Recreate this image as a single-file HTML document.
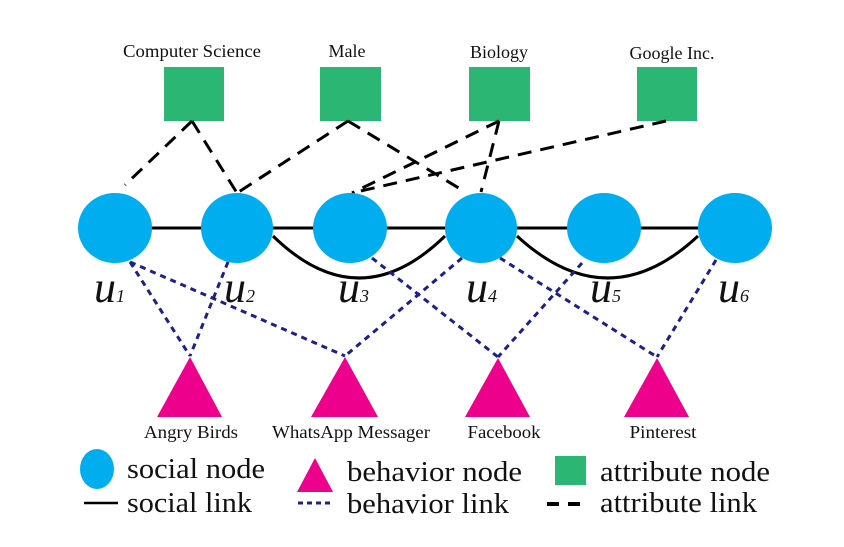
<!DOCTYPE html>
<html><head><style>body{margin:0;background:#fff}svg{display:block}</style></head><body>
<svg width="844" height="547" viewBox="0 0 844 547" xmlns="http://www.w3.org/2000/svg" font-family="Liberation Serif, serif">
<g font-size="18" text-anchor="middle" fill="#111">
<text x="192" y="57" textLength="138" lengthAdjust="spacingAndGlyphs">Computer Science</text>
<text x="347" y="57">Male</text>
<text x="499" y="58">Biology</text>
<text x="672" y="59">Google Inc.</text>
</g>
<g fill="#2bb673">
<rect x="164" y="67" width="60" height="54"/>
<rect x="320" y="67" width="61" height="54"/>
<rect x="469" y="67" width="61" height="54"/>
<rect x="637" y="67" width="60" height="54"/>
</g>
<g stroke="#000" stroke-width="3" stroke-dasharray="14,9" fill="none">
<line x1="192" y1="121" x2="125" y2="185"/>
<line x1="192" y1="121" x2="237" y2="193"/>
<line x1="348" y1="121" x2="237" y2="193"/>
<line x1="348" y1="121" x2="462" y2="190"/>
<line x1="499" y1="121" x2="352" y2="193"/>
<line x1="499" y1="121" x2="481" y2="192"/>
<line x1="666" y1="121" x2="352" y2="193"/>
</g>
<g stroke="#000" stroke-width="3" fill="none">
<line x1="115" y1="228" x2="735" y2="228"/>
<path d="M273 236 Q359 320 445 236"/>
<path d="M517 236 Q608 320 698 236"/>
</g>
<g stroke="#1f1f8a" stroke-width="3" stroke-dasharray="6,5" fill="none">
<line x1="130" y1="262" x2="190" y2="356"/>
<line x1="130" y1="262" x2="345" y2="356"/>
<line x1="228" y1="262" x2="190" y2="356"/>
<line x1="462" y1="258" x2="345" y2="356"/>
<line x1="372" y1="258" x2="498" y2="357"/>
<line x1="582" y1="263" x2="498" y2="357"/>
<line x1="500" y1="258" x2="657" y2="357"/>
<line x1="716" y1="260" x2="657" y2="357"/>
</g>
<g fill="#00adee">
<ellipse cx="115" cy="228" rx="37" ry="35"/>
<ellipse cx="237" cy="228" rx="36" ry="35"/>
<ellipse cx="350" cy="228" rx="37" ry="35"/>
<ellipse cx="481" cy="228" rx="36" ry="35"/>
<ellipse cx="604" cy="228" rx="37" ry="35"/>
<ellipse cx="735" cy="228" rx="37" ry="35"/>
</g>
<g font-style="italic" fill="#111">
<text x="94" y="302" font-size="44">u<tspan font-size="18">1</tspan></text>
<text x="224" y="302" font-size="44">u<tspan font-size="18">2</tspan></text>
<text x="338" y="302" font-size="44">u<tspan font-size="18">3</tspan></text>
<text x="466" y="302" font-size="44">u<tspan font-size="18">4</tspan></text>
<text x="590" y="302" font-size="44">u<tspan font-size="18">5</tspan></text>
<text x="718" y="302" font-size="44">u<tspan font-size="18">6</tspan></text>
</g>
<g fill="#ec008c">
<polygon points="190,357 222,417 157,417"/>
<polygon points="345,357 378,417 311,417"/>
<polygon points="498,358 530,417 465,417"/>
<polygon points="657,358 689,417 624,417"/>
</g>
<g font-size="18" text-anchor="middle" fill="#111">
<text x="191" y="438" textLength="94" lengthAdjust="spacingAndGlyphs">Angry Birds</text>
<text x="351" y="438" textLength="158" lengthAdjust="spacingAndGlyphs">WhatsApp Messager</text>
<text x="504" y="438" textLength="73" lengthAdjust="spacingAndGlyphs">Facebook</text>
<text x="663" y="438" textLength="67" lengthAdjust="spacingAndGlyphs">Pinterest</text>
</g>
<ellipse cx="97" cy="469" rx="17" ry="20" fill="#00adee"/>
<polygon points="315,458 333,492 297,492" fill="#ec008c"/>
<rect x="555" y="456" width="31" height="29" fill="#2bb673"/>
<line x1="84" y1="503" x2="118" y2="503" stroke="#000" stroke-width="2.5"/>
<line x1="298" y1="503" x2="332" y2="503" stroke="#1f1f8a" stroke-width="3" stroke-dasharray="5,4"/>
<line x1="547" y1="504" x2="584" y2="504" stroke="#000" stroke-width="4" stroke-dasharray="12,9"/>
<g font-size="29" fill="#111">
<text x="127" y="478" textLength="138" lengthAdjust="spacingAndGlyphs">social node</text>
<text x="347" y="481" textLength="175" lengthAdjust="spacingAndGlyphs">behavior node</text>
<text x="600" y="481" textLength="170" lengthAdjust="spacingAndGlyphs">attribute node</text>
<text x="127" y="512" textLength="125" lengthAdjust="spacingAndGlyphs">social link</text>
<text x="347" y="513" textLength="162" lengthAdjust="spacingAndGlyphs">behavior link</text>
<text x="600" y="512" textLength="157" lengthAdjust="spacingAndGlyphs">attribute link</text>
</g>
</svg>
</body></html>
